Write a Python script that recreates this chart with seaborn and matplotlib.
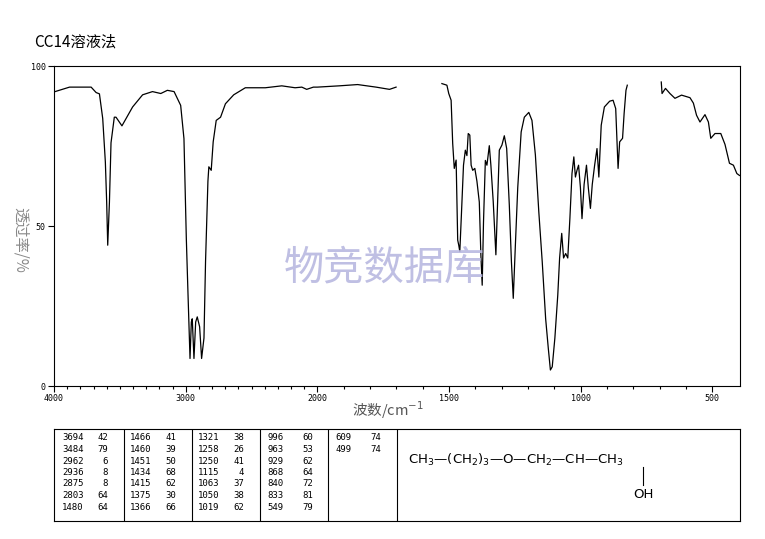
import matplotlib
matplotlib.use("Agg")
import matplotlib.pyplot as plt
import seaborn as sns
import numpy as np
import pandas as pd

CJK = "Noto Sans CJK SC"

# ── spectrum segments (wavenumber cm-1, transmittance %) ─────────────────────
seg1_wn = [4000, 3882, 3718, 3680, 3655, 3630, 3610, 3600, 3592, 3579, 3567, 3542, 3529,
           3484, 3403, 3327, 3252, 3189, 3139, 3088, 3038, 3013, 2995, 2982, 2967, 2957,
           2950, 2937, 2924, 2912, 2894, 2879, 2861, 2849, 2831, 2824, 2806, 2791, 2768,
           2735, 2698, 2635, 2547, 2395, 2270, 2169, 2118, 2081, 2030, 2000, 1917, 1847,
           1777, 1726, 1701]
seg1_t = [91.9, 93.4, 93.4, 91.7, 91.3, 83.6, 70, 57.5, 44, 57.5, 76, 84, 84,
          81.3, 87.2, 91, 92, 91.4, 92.4, 92, 87.7, 77.3, 46, 28.4, 8.6, 20,
          21, 8.6, 20, 21.6, 18.5, 8.6, 15, 39, 64, 68.5, 67.4, 76.3, 83,
          84, 88.2, 91, 93.2, 93.2, 93.8, 93.2, 93.4, 92.7, 93.4, 93.4, 93.8, 94.2,
          93.4, 92.7, 93.4]

seg2_wn = [1527, 1508, 1501, 1492, 1486, 1480, 1473, 1467, 1463, 1459, 1453, 1445, 1438,
           1432, 1427, 1421, 1416, 1410, 1402, 1394, 1385, 1379, 1374, 1369, 1362, 1356,
           1347, 1341, 1332, 1322, 1315, 1309, 1299, 1290, 1281, 1271, 1263, 1256, 1248,
           1239, 1226, 1214, 1197, 1185, 1172, 1159, 1146, 1133, 1123, 1115, 1108, 1098,
           1087, 1080, 1072, 1065, 1057, 1049, 1041, 1033, 1026, 1020, 1014, 1008, 1001,
           995, 987, 978, 971, 963, 956, 947, 938, 931, 922, 910, 890, 877, 867, 858,
           852, 841, 835, 828, 823]
seg2_t = [94.5, 94, 91.4, 89.3, 75.8, 68, 70.6, 45.6, 44, 42, 53.4, 69, 73.7,
          72, 78.9, 78.4, 69, 67.4, 68, 64, 57.5, 41, 31.5, 51.3, 70.5, 69,
          75.1, 69, 57.5, 41, 58.6, 73.7, 75.3, 78.2, 74.2, 56.5, 38.8, 27.4, 44,
          62, 79.4, 84, 85.5, 83, 72.2, 54.4, 38.8, 21, 11.8, 5, 6, 15,
          28.4, 40, 47.7, 40, 41.4, 40, 52.3, 66.4, 71.6, 65.3, 67.4, 69, 62,
          52.3, 63, 69, 62, 55.5, 63, 69, 74.2, 65.3, 81.5, 87.2, 89, 89.3, 86.7, 68,
          76.3, 77.4, 85.2, 92.4, 94]

seg3_wn = [694, 691, 678, 661, 642, 617, 585, 572, 560, 547, 528, 515, 506, 490, 468,
           452, 435, 420, 407, 397]
seg3_t = [95, 91.4, 93, 91.4, 89.9, 90.9, 90.1, 88.4, 84.6, 82.5, 84.8, 82.5, 77.4, 78.9,
          78.9, 75.5, 69.6, 69, 66.4, 65.8]

# ── peak table ───────────────────────────────────────────────────────────────
peak_wn = [3694, 3484, 2962, 2936, 2875, 2803, 1480,
           1466, 1460, 1451, 1434, 1415, 1375, 1366,
           1321, 1258, 1250, 1115, 1063, 1050, 1019,
           996, 963, 929, 868, 840, 833, 549,
           609, 499]
peak_t = [42, 79, 6, 8, 8, 64, 64,
          41, 39, 50, 68, 62, 30, 66,
          38, 26, 41, 4, 37, 38, 62,
          60, 53, 62, 64, 72, 81, 79,
          74, 74]

x_major = [4000, 3000, 2000, 1500, 1000, 500]
y_major = [0, 50, 100]


# x axis: scale below 2000 cm-1 is doubled
def fwd(x):
    x = np.asarray(x, dtype=float)
    return np.where(x >= 2000, x, 2 * x - 2000)


def inv(u):
    u = np.asarray(u, dtype=float)
    return np.where(u >= 2000, u, (u + 2000) / 2)


fig = plt.figure(figsize=(7.65, 5.39), dpi=100)
W, H = 765, 539
ax = fig.add_axes([54 / W, 1 - 386 / H, (740 - 54) / W, (386 - 66) / H])

for wn, t in [(seg1_wn, seg1_t), (seg2_wn, seg2_t), (seg3_wn, seg3_t)]:
    df = pd.DataFrame({"wn": wn, "t": t})
    sns.lineplot(data=df, x="wn", y="t", ax=ax, sort=False, estimator=None,
                 color="black", linewidth=0.9)

ax.set_xscale("function", functions=(fwd, inv))
ax.set_xlim(4000, 395)
ax.set_ylim(0, 100)
ax.set_xticks(x_major)
ax.set_xticklabels([str(v) for v in x_major], fontsize=6, fontfamily="DejaVu Sans Mono")
minor = list(range(3900, 2000, -100)) + list(range(1900, 400, -100))
ax.set_xticks([m for m in minor if m not in x_major], minor=True)
ax.set_yticks(y_major)
ax.set_yticklabels([str(v) for v in y_major], fontsize=6, fontfamily="DejaVu Sans Mono")
ax.tick_params(axis="both", which="major", length=4, width=0.8, pad=2)
ax.tick_params(axis="x", which="minor", length=2.5, width=0.8)
ax.set_xlabel("")
ax.set_ylabel("")
for s in ax.spines.values():
    s.set_linewidth(0.8)

fig.text(34 / W, 1 - 42 / H, "CC14溶液法", fontfamily=CJK, fontsize=11, va="center")
fig.text(20 / W, 1 - 240 / H, "透过率/%", fontfamily=CJK, fontsize=11, color="#888888",
         rotation=270, va="center", ha="center")
fig.text(388 / W, 1 - 410 / H, "波数/cm$^{-1}$", fontfamily=CJK, fontsize=10.5,
         color="#555555", va="center", ha="center")
fig.text(384 / W, 1 - 268 / H, "物竞数据库", fontfamily=CJK, fontsize=29,
         color="#b8b8e0", va="center", ha="center", alpha=0.9)

# ── table ────────────────────────────────────────────────────────────────────
tab = fig.add_axes([54 / W, 1 - 521 / H, (740 - 54) / W, (521 - 429) / H])
tab.set_xlim(54, 740)
tab.set_ylim(521, 429)
tab.set_xticks([])
tab.set_yticks([])
for s in tab.spines.values():
    s.set_linewidth(0.8)
for xs in [124, 192, 260, 328, 397]:
    tab.axvline(xs, color="black", linewidth=0.8)

col_x = [58, 126, 194, 263, 331]
for i, (wn, t) in enumerate(zip(peak_wn, peak_t)):
    c, r = divmod(i, 7)
    yy = 438 + r * 11.5
    tab.text(col_x[c] + 4, yy, str(wn), fontsize=6.5, fontfamily="DejaVu Sans Mono", va="center")
    tab.text(col_x[c] + 50, yy, str(t), fontsize=6.5, fontfamily="DejaVu Sans Mono",
             va="center", ha="right")

tab.text(408, 460, "CH$_3$—(CH$_2$)$_3$—O—CH$_2$—CH—CH$_3$", fontsize=9.5,
         fontfamily="DejaVu Sans", va="center")
tab.plot([643, 643], [467, 485], color="black", linewidth=0.8)
tab.text(643, 494, "OH", fontsize=9.5, fontfamily="DejaVu Sans", va="center", ha="center")

fig.savefig("out.png", dpi=100)
